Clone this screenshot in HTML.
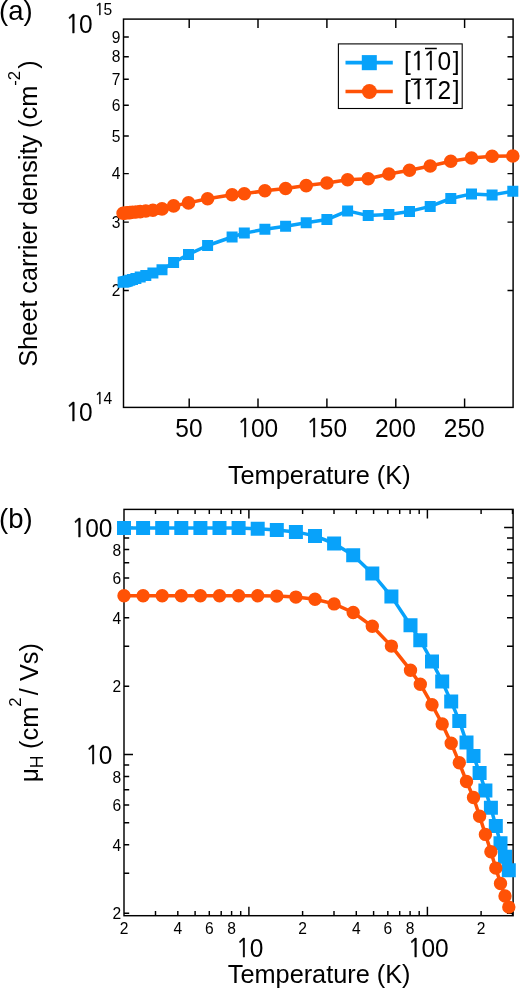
<!DOCTYPE html>
<html lang="en"><head><meta charset="utf-8"><title>Sheet carrier density and Hall mobility vs temperature</title>
<style>
html,body{margin:0;padding:0;background:#fff;}
body{width:520px;height:989px;overflow:hidden;}
svg{display:block;}
svg text{font-family:"Liberation Sans", sans-serif;fill:#000;}
.big{font-size:24.5px;}
.tit{font-size:25.3px;}
.sm{font-size:15.6px;}
.w{font-family:NanumGothic,"Liberation Sans",sans-serif;font-size:0.963em;letter-spacing:-0.029em;stroke:#000;stroke-width:0.4px;}
.ax{stroke:#000;stroke-width:1.45;fill:none;}
</style></head><body>
<svg width="520" height="989" viewBox="0 0 520 989">
<rect x="0" y="0" width="520" height="989" fill="#fff"/>

<g id="plotA">
<rect class="ax" x="123.5" y="19.1" width="389.6" height="388.3"/>
<path class="ax" d="M189.2 407.4v-9 M189.2 19.1v9 M258.0 407.4v-9 M258.0 19.1v9 M326.9 407.4v-9 M326.9 19.1v9 M395.8 407.4v-9 M395.8 19.1v9 M464.6 407.4v-9 M464.6 19.1v9 M123.5 290.5h5.3 M513.1 290.5h-5.6 M123.5 222.1h5.3 M513.1 222.1h-5.6 M123.5 173.6h5.3 M513.1 173.6h-5.6 M123.5 136.0h5.3 M513.1 136.0h-5.6 M123.5 105.2h5.3 M513.1 105.2h-5.6 M123.5 79.2h5.3 M513.1 79.2h-5.6 M123.5 56.7h5.3 M513.1 56.7h-5.6 M123.5 36.9h5.3 M513.1 36.9h-5.6"/>
<text class="big" transform="translate(188.9 437.0) scale(1.0 1.04)" text-anchor="middle">50</text>
<text class="big" transform="translate(257.7 437.0) scale(1.0 1.04)" text-anchor="middle"><tspan class="w">1</tspan>00</text>
<text class="big" transform="translate(326.6 437.0) scale(1.0 1.04)" text-anchor="middle"><tspan class="w">1</tspan>50</text>
<text class="big" transform="translate(395.4 437.0) scale(1.0 1.04)" text-anchor="middle">200</text>
<text class="big" transform="translate(464.3 437.0) scale(1.0 1.04)" text-anchor="middle">250</text>
<text class="sm" transform="translate(120.4 296.2) scale(1.0 1.04)" text-anchor="end">2</text>
<text class="sm" transform="translate(120.4 227.8) scale(1.0 1.04)" text-anchor="end">3</text>
<text class="sm" transform="translate(120.4 179.3) scale(1.0 1.04)" text-anchor="end">4</text>
<text class="sm" transform="translate(120.4 141.7) scale(1.0 1.04)" text-anchor="end">5</text>
<text class="sm" transform="translate(120.4 110.9) scale(1.0 1.04)" text-anchor="end">6</text>
<text class="sm" transform="translate(120.4 84.9) scale(1.0 1.04)" text-anchor="end">7</text>
<text class="sm" transform="translate(120.4 62.4) scale(1.0 1.04)" text-anchor="end">8</text>
<text class="sm" transform="translate(120.4 42.6) scale(1.0 1.04)" text-anchor="end">9</text>
<text class="big" transform="translate(65.4 33.0) scale(1.0 1.04)"><tspan class="w">1</tspan>0<tspan class="sm" dx="2.2" dy="-16.9"><tspan class="w">1</tspan>5</tspan></text>
<text class="big" transform="translate(65.4 421.2) scale(1.0 1.04)"><tspan class="w">1</tspan>0<tspan class="sm" dx="2.2" dy="-16.9"><tspan class="w">1</tspan>4</tspan></text>
<text class="tit" transform="translate(227.9 484.3) scale(1.0 1.04)">Temperature (K)</text>
<text class="tit" transform="translate(37.2 366.8) rotate(-90) scale(1.0 1.04)">Sheet carrier density (cm<tspan style="font-size:16.6px" dy="-16.9">-2</tspan><tspan dx="2.3" dy="16.9">)</tspan></text>
<text style="font-size:27.5px" x="-0.9" y="19.8">(a)</text>
<polyline points="123.1,282.3 123.9,282.1 124.9,281.8 126.1,281.4 127.7,280.9 129.8,280.3 132.5,279.4 135.9,278.4 140.2,277.1 145.8,275.4 152.9,272.9 162.0,269.8 173.6,262.5 188.5,254.4 207.6,245.5 232.1,237.0 244.3,233.1 264.9,229.3 285.6,226.3 306.2,222.7 326.9,219.6 347.6,210.9 368.2,215.6 388.9,214.6 409.5,211.4 430.2,206.4 450.8,198.5 471.5,193.9 492.1,194.9 512.8,191.2" fill="none" stroke="#08A2FA" stroke-width="3.5" stroke-linejoin="round"/>
<path d="M117.6 276.8h11.0v11.0h-11.0zM118.4 276.6h11.0v11.0h-11.0zM119.4 276.3h11.0v11.0h-11.0zM120.6 275.9h11.0v11.0h-11.0zM122.2 275.4h11.0v11.0h-11.0zM124.3 274.8h11.0v11.0h-11.0zM127.0 273.9h11.0v11.0h-11.0zM130.4 272.9h11.0v11.0h-11.0zM134.7 271.6h11.0v11.0h-11.0zM140.3 269.9h11.0v11.0h-11.0zM147.4 267.4h11.0v11.0h-11.0zM156.5 264.3h11.0v11.0h-11.0zM168.1 257.0h11.0v11.0h-11.0zM183.0 248.9h11.0v11.0h-11.0zM202.1 240.0h11.0v11.0h-11.0zM226.6 231.5h11.0v11.0h-11.0zM238.8 227.6h11.0v11.0h-11.0zM259.4 223.8h11.0v11.0h-11.0zM280.1 220.8h11.0v11.0h-11.0zM300.7 217.2h11.0v11.0h-11.0zM321.4 214.1h11.0v11.0h-11.0zM342.1 205.4h11.0v11.0h-11.0zM362.7 210.1h11.0v11.0h-11.0zM383.4 209.1h11.0v11.0h-11.0zM404.0 205.9h11.0v11.0h-11.0zM424.7 200.9h11.0v11.0h-11.0zM445.3 193.0h11.0v11.0h-11.0zM466.0 188.4h11.0v11.0h-11.0zM486.6 189.4h11.0v11.0h-11.0zM507.3 185.7h11.0v11.0h-11.0z" fill="#08A2FA"/>
<polyline points="123.1,213.3 123.9,213.2 124.9,213.1 126.1,213.0 127.7,212.8 129.8,212.6 132.5,212.3 135.9,212.0 140.2,211.6 145.8,211.0 152.9,210.2 162.0,208.9 173.6,205.9 188.5,202.9 207.6,198.8 232.1,194.7 244.3,193.8 264.9,190.8 285.6,188.5 306.2,185.6 326.9,183.0 347.6,179.8 368.2,178.7 388.9,174.0 409.5,170.3 430.2,166.0 450.8,161.3 471.5,158.0 492.1,156.2 512.8,156.0" fill="none" stroke="#FF5206" stroke-width="3.5" stroke-linejoin="round"/>
<path d="M116.3 213.3a6.8 6.8 0 1 0 13.6 0a6.8 6.8 0 1 0 -13.6 0zM117.1 213.2a6.8 6.8 0 1 0 13.6 0a6.8 6.8 0 1 0 -13.6 0zM118.1 213.1a6.8 6.8 0 1 0 13.6 0a6.8 6.8 0 1 0 -13.6 0zM119.3 213.0a6.8 6.8 0 1 0 13.6 0a6.8 6.8 0 1 0 -13.6 0zM120.9 212.8a6.8 6.8 0 1 0 13.6 0a6.8 6.8 0 1 0 -13.6 0zM123.0 212.6a6.8 6.8 0 1 0 13.6 0a6.8 6.8 0 1 0 -13.6 0zM125.7 212.3a6.8 6.8 0 1 0 13.6 0a6.8 6.8 0 1 0 -13.6 0zM129.1 212.0a6.8 6.8 0 1 0 13.6 0a6.8 6.8 0 1 0 -13.6 0zM133.4 211.6a6.8 6.8 0 1 0 13.6 0a6.8 6.8 0 1 0 -13.6 0zM139.0 211.0a6.8 6.8 0 1 0 13.6 0a6.8 6.8 0 1 0 -13.6 0zM146.1 210.2a6.8 6.8 0 1 0 13.6 0a6.8 6.8 0 1 0 -13.6 0zM155.2 208.9a6.8 6.8 0 1 0 13.6 0a6.8 6.8 0 1 0 -13.6 0zM166.8 205.9a6.8 6.8 0 1 0 13.6 0a6.8 6.8 0 1 0 -13.6 0zM181.7 202.9a6.8 6.8 0 1 0 13.6 0a6.8 6.8 0 1 0 -13.6 0zM200.8 198.8a6.8 6.8 0 1 0 13.6 0a6.8 6.8 0 1 0 -13.6 0zM225.3 194.7a6.8 6.8 0 1 0 13.6 0a6.8 6.8 0 1 0 -13.6 0zM237.5 193.8a6.8 6.8 0 1 0 13.6 0a6.8 6.8 0 1 0 -13.6 0zM258.1 190.8a6.8 6.8 0 1 0 13.6 0a6.8 6.8 0 1 0 -13.6 0zM278.8 188.5a6.8 6.8 0 1 0 13.6 0a6.8 6.8 0 1 0 -13.6 0zM299.4 185.6a6.8 6.8 0 1 0 13.6 0a6.8 6.8 0 1 0 -13.6 0zM320.1 183.0a6.8 6.8 0 1 0 13.6 0a6.8 6.8 0 1 0 -13.6 0zM340.8 179.8a6.8 6.8 0 1 0 13.6 0a6.8 6.8 0 1 0 -13.6 0zM361.4 178.7a6.8 6.8 0 1 0 13.6 0a6.8 6.8 0 1 0 -13.6 0zM382.1 174.0a6.8 6.8 0 1 0 13.6 0a6.8 6.8 0 1 0 -13.6 0zM402.7 170.3a6.8 6.8 0 1 0 13.6 0a6.8 6.8 0 1 0 -13.6 0zM423.4 166.0a6.8 6.8 0 1 0 13.6 0a6.8 6.8 0 1 0 -13.6 0zM444.0 161.3a6.8 6.8 0 1 0 13.6 0a6.8 6.8 0 1 0 -13.6 0zM464.7 158.0a6.8 6.8 0 1 0 13.6 0a6.8 6.8 0 1 0 -13.6 0zM485.3 156.2a6.8 6.8 0 1 0 13.6 0a6.8 6.8 0 1 0 -13.6 0zM506.0 156.0a6.8 6.8 0 1 0 13.6 0a6.8 6.8 0 1 0 -13.6 0z" fill="#FF5206"/>
<rect x="338.4" y="43.9" width="123.8" height="64.6" fill="#fff" stroke="#000" stroke-width="1.1"/>
<path d="M345.5 62.6H392.8" stroke="#08A2FA" stroke-width="3.6"/><rect x="361.8" y="55.1" width="15" height="15.1" fill="#08A2FA"/>
<path d="M345.5 91.5H392.8" stroke="#FF5206" stroke-width="3.6"/><circle cx="369.4" cy="91.5" r="7.5" fill="#FF5206"/>
<text class="big" transform="translate(404.0 70.1) scale(1.0 1.04)">[<tspan class="w">1</tspan><tspan dx="-1.3"><tspan class="w">1</tspan></tspan><tspan dx="0.8">0</tspan><tspan dx="1.6">]</tspan></text>
<text class="big" transform="translate(404.0 99.1) scale(1.0 1.04)">[<tspan class="w">1</tspan><tspan dx="-1.3"><tspan class="w">1</tspan></tspan><tspan dx="0.8">2</tspan><tspan dx="1.6">]</tspan></text>
<path d="M425 48.5H436.8M411 79.2H421.2M425 79.2H436.8" stroke="#000" stroke-width="1.5"/>
</g>
<g id="plotB">
<rect class="ax" x="124.0" y="509.4" width="389.1" height="406.3"/>
<path class="ax" d="M155.5 915.7v-4.7 M155.5 509.4v4.7 M177.8 915.7v-4.7 M177.8 509.4v4.7 M195.1 915.7v-4.7 M195.1 509.4v4.7 M209.3 915.7v-4.7 M209.3 509.4v4.7 M221.2 915.7v-4.7 M221.2 509.4v4.7 M231.6 915.7v-4.7 M231.6 509.4v4.7 M240.7 915.7v-4.7 M240.7 509.4v4.7 M248.9 915.7v-9 M248.9 509.4v9 M302.6 915.7v-4.7 M302.6 509.4v4.7 M334.0 915.7v-4.7 M334.0 509.4v4.7 M356.3 915.7v-4.7 M356.3 509.4v4.7 M373.6 915.7v-4.7 M373.6 509.4v4.7 M387.8 915.7v-4.7 M387.8 509.4v4.7 M399.7 915.7v-4.7 M399.7 509.4v4.7 M410.1 915.7v-4.7 M410.1 509.4v4.7 M419.2 915.7v-4.7 M419.2 509.4v4.7 M427.4 915.7v-9 M427.4 509.4v9 M481.1 915.7v-4.7 M481.1 509.4v4.7 M512.5 915.7v-4.7 M512.5 509.4v4.7 M124.0 913.2h5.2 M513.1 913.2h-6.1 M124.0 873.2h5.2 M513.1 873.2h-6.1 M124.0 844.8h5.2 M513.1 844.8h-6.1 M124.0 822.8h5.2 M513.1 822.8h-6.1 M124.0 804.9h5.2 M513.1 804.9h-6.1 M124.0 789.7h5.2 M513.1 789.7h-6.1 M124.0 776.5h5.2 M513.1 776.5h-6.1 M124.0 764.9h5.2 M513.1 764.9h-6.1 M124.0 754.5h9 M513.1 754.5h-9 M124.0 686.2h5.2 M513.1 686.2h-6.1 M124.0 646.2h5.2 M513.1 646.2h-6.1 M124.0 617.8h5.2 M513.1 617.8h-6.1 M124.0 595.8h5.2 M513.1 595.8h-6.1 M124.0 577.9h5.2 M513.1 577.9h-6.1 M124.0 562.7h5.2 M513.1 562.7h-6.1 M124.0 549.5h5.2 M513.1 549.5h-6.1 M124.0 537.9h5.2 M513.1 537.9h-6.1 M124.0 527.5h9 M513.1 527.5h-9"/>
<text class="sm" transform="translate(124.1 933.9) scale(1.0 1.04)" text-anchor="middle">2</text>
<text class="sm" transform="translate(177.8 933.9) scale(1.0 1.04)" text-anchor="middle">4</text>
<text class="sm" transform="translate(209.3 933.9) scale(1.0 1.04)" text-anchor="middle">6</text>
<text class="sm" transform="translate(231.6 933.9) scale(1.0 1.04)" text-anchor="middle">8</text>
<text class="sm" transform="translate(302.6 933.9) scale(1.0 1.04)" text-anchor="middle">2</text>
<text class="sm" transform="translate(356.3 933.9) scale(1.0 1.04)" text-anchor="middle">4</text>
<text class="sm" transform="translate(387.8 933.9) scale(1.0 1.04)" text-anchor="middle">6</text>
<text class="sm" transform="translate(410.1 933.9) scale(1.0 1.04)" text-anchor="middle">8</text>
<text class="sm" transform="translate(481.1 933.9) scale(1.0 1.04)" text-anchor="middle">2</text>
<text class="big" transform="translate(249.7 956.8) scale(1.0 1.04)" text-anchor="middle"><tspan class="w">1</tspan>0</text>
<text class="big" transform="translate(428.2 956.8) scale(1.0 1.04)" text-anchor="middle"><tspan class="w">1</tspan>00</text>
<text class="sm" transform="translate(121.2 919.3) scale(1.0 1.04)" text-anchor="end">2</text>
<text class="sm" transform="translate(121.2 850.9) scale(1.0 1.04)" text-anchor="end">4</text>
<text class="sm" transform="translate(121.2 811.0) scale(1.0 1.04)" text-anchor="end">6</text>
<text class="sm" transform="translate(121.2 782.6) scale(1.0 1.04)" text-anchor="end">8</text>
<text class="sm" transform="translate(121.2 692.3) scale(1.0 1.04)" text-anchor="end">2</text>
<text class="sm" transform="translate(121.2 623.9) scale(1.0 1.04)" text-anchor="end">4</text>
<text class="sm" transform="translate(121.2 584.0) scale(1.0 1.04)" text-anchor="end">6</text>
<text class="sm" transform="translate(121.2 555.6) scale(1.0 1.04)" text-anchor="end">8</text>
<text class="big" transform="translate(112.4 536.7) scale(1.0 1.04)" text-anchor="end"><tspan class="w">1</tspan>00</text>
<text class="big" transform="translate(112.4 764.1) scale(1.0 1.04)" text-anchor="end"><tspan class="w">1</tspan>0</text>
<text class="tit" transform="translate(227.8 982.8) scale(1.0 1.04)">Temperature (K)</text>
<text style="font-size:27.5px" x="-0.9" y="527.8">(b)</text>
<text class="tit" transform="translate(38.3 782.0) rotate(-90) scale(1.0 1.04)"><tspan style="font-size:24px">μ</tspan><tspan style="font-size:17.6px" dy="4.4">H</tspan><tspan dy="-4.4" dx="-0.5"> (cm</tspan><tspan style="font-size:16.6px" dy="-16.9">2</tspan><tspan dy="16.9" dx="2.4">/ Vs)</tspan></text>
<polyline points="124.0,528.1 143.1,528.1 162.2,528.1 181.3,528.1 200.4,528.1 219.5,528.1 238.6,528.1 257.7,528.7 276.8,530.0 295.9,531.9 315.0,535.9 334.1,543.5 353.2,555.2 372.3,573.5 391.4,596.4 410.5,625.2 420.3,640.2 432.0,661.5 442.2,681.6 451.2,701.6 459.3,720.9 466.5,742.4 473.5,755.9 479.6,773.1 485.4,790.4 490.9,807.7 495.8,826.0 500.5,843.3 505.0,856.7 508.8,870.2" fill="none" stroke="#08A2FA" stroke-width="3.5" stroke-linejoin="round"/>
<path d="M117.0 521.1h14.0v14.0h-14.0zM136.1 521.1h14.0v14.0h-14.0zM155.2 521.1h14.0v14.0h-14.0zM174.3 521.1h14.0v14.0h-14.0zM193.4 521.1h14.0v14.0h-14.0zM212.5 521.1h14.0v14.0h-14.0zM231.6 521.1h14.0v14.0h-14.0zM250.7 521.7h14.0v14.0h-14.0zM269.8 523.0h14.0v14.0h-14.0zM288.9 524.9h14.0v14.0h-14.0zM308.0 528.9h14.0v14.0h-14.0zM327.1 536.5h14.0v14.0h-14.0zM346.2 548.2h14.0v14.0h-14.0zM365.3 566.5h14.0v14.0h-14.0zM384.4 589.4h14.0v14.0h-14.0zM403.5 618.2h14.0v14.0h-14.0zM413.3 633.2h14.0v14.0h-14.0zM425.0 654.5h14.0v14.0h-14.0zM435.2 674.6h14.0v14.0h-14.0zM444.2 694.6h14.0v14.0h-14.0zM452.3 713.9h14.0v14.0h-14.0zM459.5 735.4h14.0v14.0h-14.0zM466.5 748.9h14.0v14.0h-14.0zM472.6 766.1h14.0v14.0h-14.0zM478.4 783.4h14.0v14.0h-14.0zM483.9 800.7h14.0v14.0h-14.0zM488.8 819.0h14.0v14.0h-14.0zM493.5 836.3h14.0v14.0h-14.0zM498.0 849.7h14.0v14.0h-14.0zM501.8 863.2h14.0v14.0h-14.0z" fill="#08A2FA"/>
<polyline points="124.0,595.8 143.1,595.8 162.2,595.8 181.3,595.8 200.4,595.8 219.5,595.8 238.6,595.8 257.7,595.8 276.8,596.1 295.9,597.1 315.0,599.3 334.1,603.9 353.2,612.5 372.3,626.3 391.4,646.1 410.5,670.2 420.3,684.2 432.0,704.7 442.2,723.9 451.2,743.2 459.3,762.8 466.5,781.5 473.5,797.5 479.6,816.2 485.4,834.4 490.9,851.7 495.8,868.1 500.5,883.5 505.0,896.0 508.8,907.1" fill="none" stroke="#FF5206" stroke-width="3.5" stroke-linejoin="round"/>
<path d="M117.3 595.8a6.7 6.7 0 1 0 13.4 0a6.7 6.7 0 1 0 -13.4 0zM136.4 595.8a6.7 6.7 0 1 0 13.4 0a6.7 6.7 0 1 0 -13.4 0zM155.5 595.8a6.7 6.7 0 1 0 13.4 0a6.7 6.7 0 1 0 -13.4 0zM174.6 595.8a6.7 6.7 0 1 0 13.4 0a6.7 6.7 0 1 0 -13.4 0zM193.7 595.8a6.7 6.7 0 1 0 13.4 0a6.7 6.7 0 1 0 -13.4 0zM212.8 595.8a6.7 6.7 0 1 0 13.4 0a6.7 6.7 0 1 0 -13.4 0zM231.9 595.8a6.7 6.7 0 1 0 13.4 0a6.7 6.7 0 1 0 -13.4 0zM251.0 595.8a6.7 6.7 0 1 0 13.4 0a6.7 6.7 0 1 0 -13.4 0zM270.1 596.1a6.7 6.7 0 1 0 13.4 0a6.7 6.7 0 1 0 -13.4 0zM289.2 597.1a6.7 6.7 0 1 0 13.4 0a6.7 6.7 0 1 0 -13.4 0zM308.3 599.3a6.7 6.7 0 1 0 13.4 0a6.7 6.7 0 1 0 -13.4 0zM327.4 603.9a6.7 6.7 0 1 0 13.4 0a6.7 6.7 0 1 0 -13.4 0zM346.5 612.5a6.7 6.7 0 1 0 13.4 0a6.7 6.7 0 1 0 -13.4 0zM365.6 626.3a6.7 6.7 0 1 0 13.4 0a6.7 6.7 0 1 0 -13.4 0zM384.7 646.1a6.7 6.7 0 1 0 13.4 0a6.7 6.7 0 1 0 -13.4 0zM403.8 670.2a6.7 6.7 0 1 0 13.4 0a6.7 6.7 0 1 0 -13.4 0zM413.6 684.2a6.7 6.7 0 1 0 13.4 0a6.7 6.7 0 1 0 -13.4 0zM425.3 704.7a6.7 6.7 0 1 0 13.4 0a6.7 6.7 0 1 0 -13.4 0zM435.5 723.9a6.7 6.7 0 1 0 13.4 0a6.7 6.7 0 1 0 -13.4 0zM444.5 743.2a6.7 6.7 0 1 0 13.4 0a6.7 6.7 0 1 0 -13.4 0zM452.6 762.8a6.7 6.7 0 1 0 13.4 0a6.7 6.7 0 1 0 -13.4 0zM459.8 781.5a6.7 6.7 0 1 0 13.4 0a6.7 6.7 0 1 0 -13.4 0zM466.8 797.5a6.7 6.7 0 1 0 13.4 0a6.7 6.7 0 1 0 -13.4 0zM472.9 816.2a6.7 6.7 0 1 0 13.4 0a6.7 6.7 0 1 0 -13.4 0zM478.7 834.4a6.7 6.7 0 1 0 13.4 0a6.7 6.7 0 1 0 -13.4 0zM484.2 851.7a6.7 6.7 0 1 0 13.4 0a6.7 6.7 0 1 0 -13.4 0zM489.1 868.1a6.7 6.7 0 1 0 13.4 0a6.7 6.7 0 1 0 -13.4 0zM493.8 883.5a6.7 6.7 0 1 0 13.4 0a6.7 6.7 0 1 0 -13.4 0zM498.3 896.0a6.7 6.7 0 1 0 13.4 0a6.7 6.7 0 1 0 -13.4 0zM502.1 907.1a6.7 6.7 0 1 0 13.4 0a6.7 6.7 0 1 0 -13.4 0z" fill="#FF5206"/>
</g>
</svg></body></html>
